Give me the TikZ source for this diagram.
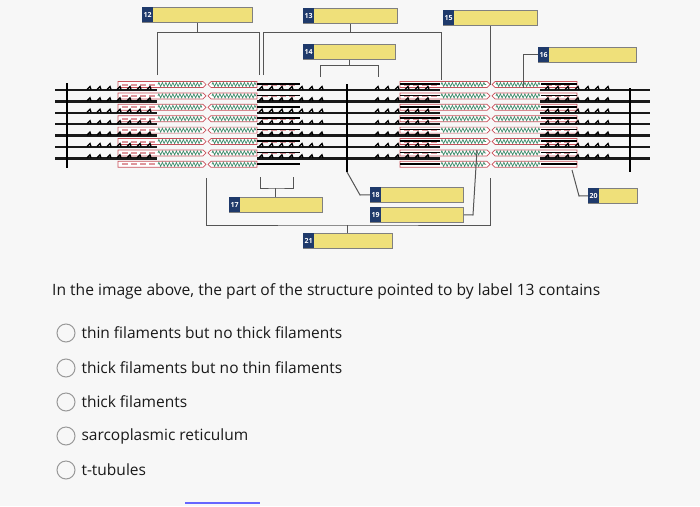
\documentclass[tikz,border=0pt]{standalone}
\usepackage{fontspec}
\setmainfont{Open Sans}
\usetikzlibrary{decorations.pathmorphing}
\definecolor{navy}{HTML}{1F3A6B}
\definecolor{lblyel}{HTML}{EFE07A}
\definecolor{tred}{HTML}{C8505A}
\definecolor{tgreen}{HTML}{3C8A6A}
\definecolor{lead}{HTML}{555555}
\tikzset{
  numbox/.style={fill=navy,text=white,font=\fontsize{7}{7}\selectfont\bfseries,minimum width=11pt,minimum height=15pt,inner sep=0pt},
  ansbox/.style={fill=lblyel,draw=gray,line width=0.8pt,minimum height=15pt,inner sep=0pt},
  leader/.style={draw=lead,line width=1pt},
  thinfil/.style={line width=2.4pt,black!90},
  band/.style={draw=tred,line width=0.7pt,fill=white},
  tit/.style={draw=tgreen,line width=0.7pt,decorate,decoration={zigzag,segment length=3.5pt,amplitude=2pt}},
  opt/.style={circle,draw=gray!80,line width=1pt,minimum size=18pt,inner sep=0pt},
  opttext/.style={anchor=west,font=\fontsize{15.5}{16}\selectfont,text=black!90}
}
\newcommand{\lblbox}[5]{%
  \node[ansbox,anchor=north west,minimum width=#4] (#1) at (#3) {};
  \node[numbox,anchor=north west] (#5) at (#1.north west) {#2};}
\begin{document}
\begin{tikzpicture}[x=1pt,y=-1pt]
\useasboundingbox (0,0) rectangle (700,506);
\fill[black!3] (0,0) rectangle (700,506);
\lblbox{b12}{12}{142,7}{110pt}{n12}
\lblbox{b13}{13}{303,8}{94pt}{n13}
\lblbox{b15}{15}{443,10}{94pt}{n15}
\lblbox{b14}{14}{303,44}{92pt}{n14}
\lblbox{b16}{16}{538,47}{98pt}{n16}
\lblbox{b17}{17}{229,197}{93pt}{n17}
\lblbox{b18}{18}{370,187}{93pt}{n18}
\lblbox{b19}{19}{370,207}{93pt}{n19}
\lblbox{b20}{20}{588,188}{49pt}{n20}
\lblbox{b21}{21}{303,233}{89pt}{n21}
\foreach \j in {0,...,7}{
  \pgfmathsetmacro{\cc}{84.5+11.4*\j}
  \draw[band] (118,\cc-3) -- (203,\cc-3) -- (206,\cc) -- (203,\cc+3) -- (118,\cc+3) -- cycle;
  \draw[band] (208,\cc) -- (211,\cc-3) -- (257,\cc-3) -- (257,\cc+3) -- (211,\cc+3) -- cycle;
  \draw[band] (400,\cc-3) -- (487,\cc-3) -- (490,\cc) -- (487,\cc+3) -- (400,\cc+3) -- cycle;
  \draw[band] (492,\cc) -- (495,\cc-3) -- (577,\cc-3) -- (577,\cc+3) -- (495,\cc+3) -- cycle;
  \draw[tit] (158,\cc) -- (202,\cc);
  \draw[tit] (212,\cc) -- (256,\cc);
  \draw[tit] (441,\cc) -- (486,\cc);
  \draw[tit] (496,\cc) -- (540,\cc);
  \foreach \xx in {122,131,140,149,404,413,422,431,546,555,564,262,271,280,289}{\fill[tred!60] (\xx,\cc-1) rectangle +(6,2);}
  \draw[black,line width=1.6pt] (257,\cc-0.5) -- (300,\cc-0.5);
  \draw[black,line width=1.6pt] (400,\cc-0.5) -- (440,\cc-0.5);
  \draw[black,line width=1.6pt] (541,\cc-0.5) -- (577,\cc-0.5);
}
\foreach \k in {0,...,6}{
  \pgfmathsetmacro{\yy}{90+11.4*\k}
  \draw[thinfil] (55,\yy) -- (157,\yy);
  \draw[thinfil] (257,\yy) -- (440,\yy);
  \draw[thinfil] (540,\yy) -- (650,\yy);
  \foreach \xx in {90,100,110,120,130,140,150,262,272,282,292,302,312,322,378,388,398,408,418,428,548,558,568,578,588,598,608}{
    \draw[black,line width=1.3pt] (\xx-3,\yy-0.5) -- (\xx,\yy-3.5) -- (\xx+1,\yy-0.5);}
}
\draw[black,line width=2.5pt] (67,83) -- (67,168);
\draw[black,line width=2.5pt] (630,88) -- (630,172);
\draw[black,line width=2pt] (347,84) -- (347,172);
\coordinate (a1) at (157,75); \coordinate (a2) at (259,75);
\draw[leader] (b12.south) -- ++(0,10) coordinate (s12);
\draw[leader] (a1) |- (s12) -| (a2);
\coordinate (c1) at (263,75); \coordinate (c2) at (441,80);
\draw[leader] (b13.south) -- ++(0,9) coordinate (s13);
\draw[leader] (c1) |- (s13) -| (c2);
\coordinate (d1) at (320,77); \coordinate (d2) at (378,77);
\draw[leader] (b14.south) -- ++(0,6) coordinate (s14);
\draw[leader] (d1) |- (s14) -| (d2);
\coordinate (e15) at (490,85);
\draw[leader] (b15.south -| e15) -- (e15);
\coordinate (e16) at (523,88);
\draw[leader] (b16.west) -| (e16);
\coordinate (f1) at (260,177); \coordinate (f2) at (293,177);
\draw[leader] (b17.north) -- ++(0,-9) coordinate (s17);
\draw[leader] (f1) |- (s17) -| (f2);
\coordinate (g18) at (347,172);
\draw[leader] (g18) -- (360,195) -- (b18.west);
\coordinate (g19) at (477,150);
\draw[leader] (b19.east) -- (473,215) -- (g19);
\coordinate (g20) at (572,170);
\draw[leader] (g20) -- (579,196) -- (b20.west);
\coordinate (h1) at (206,178); \coordinate (h2) at (490,178);
\draw[leader] (b21.north) -- ++(0,-8) coordinate (s21);
\draw[leader] (h1) |- (s21) -| (h2);
\node[anchor=west,inner sep=0pt,font=\fontsize{15.6}{16}\selectfont,text=black!90] (q) at (52,291) {In the image above, the part of the structure pointed to by label 13 contains};
\node[opt] (o1c) at (66,333) {}; \node[opttext] (o1t) at (78,333) {thin filaments but no thick filaments};
\node[opt] (o2c) at (66,368) {}; \node[opttext] (o2t) at (78,368) {thick filaments but no thin filaments};
\node[opt] (o3c) at (66,402) {}; \node[opttext] (o3t) at (78,402) {thick filaments};
\node[opt] (o4c) at (66,436) {}; \node[opttext] (o4t) at (78,436) {sarcoplasmic reticulum};
\node[opt] (o5c) at (66,470) {}; \node[opttext] (o5t) at (78,470) {t-tubules};
\draw[blue!60,line width=1.5pt] (185,503) -- (260,503);
\end{tikzpicture}
\end{document}
